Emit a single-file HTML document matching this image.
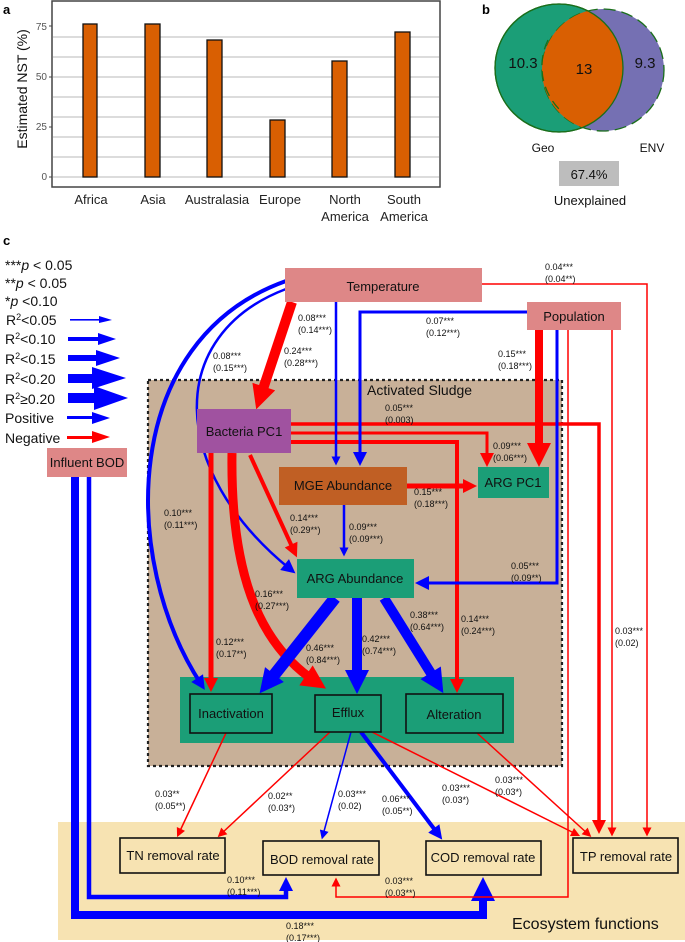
<!DOCTYPE html>
<html><head><meta charset="utf-8"><style>
html,body{margin:0;padding:0;background:#fff;}
svg{display:block;font-family:"Liberation Sans",Arial,sans-serif;}
.e{font-size:9px;fill:#111;}
.n{font-size:13px;fill:#111;}
</style></head><body>
<svg width="685" height="942" viewBox="0 0 685 942" xmlns="http://www.w3.org/2000/svg">
<defs>
<marker id="bs" viewBox="0 0 10 10" refX="5" refY="5" markerUnits="userSpaceOnUse" markerWidth="12" markerHeight="9" orient="auto"><path d="M0,0L10,5L0,10z" fill="#0000ff"/></marker>
<marker id="rs" viewBox="0 0 10 10" refX="5" refY="5" markerUnits="userSpaceOnUse" markerWidth="12" markerHeight="9" orient="auto"><path d="M0,0L10,5L0,10z" fill="#ff0000"/></marker>
<marker id="bm" viewBox="0 0 10 10" refX="5" refY="5" markerUnits="userSpaceOnUse" markerWidth="17" markerHeight="14" orient="auto"><path d="M0,0L10,5L0,10z" fill="#0000ff"/></marker>
<marker id="rm" viewBox="0 0 10 10" refX="5" refY="5" markerUnits="userSpaceOnUse" markerWidth="17" markerHeight="14" orient="auto"><path d="M0,0L10,5L0,10z" fill="#ff0000"/></marker>
<marker id="bl" viewBox="0 0 10 10" refX="5" refY="5" markerUnits="userSpaceOnUse" markerWidth="27" markerHeight="24" orient="auto"><path d="M0,0L10,5L0,10z" fill="#0000ff"/></marker>
<marker id="rl" viewBox="0 0 10 10" refX="5" refY="5" markerUnits="userSpaceOnUse" markerWidth="27" markerHeight="24" orient="auto"><path d="M0,0L10,5L0,10z" fill="#ff0000"/></marker>
</defs>

<!-- Panel a -->
<text x="3" y="14" font-size="13" font-weight="bold">a</text>
<rect x="52" y="1" width="388" height="186" fill="#fff" stroke="#444" stroke-width="1.5"/>
<g stroke="#c8c8c8" stroke-width="1.3">
<line x1="53" x2="439" y1="37" y2="37"/><line x1="53" x2="439" y1="57" y2="57"/><line x1="53" x2="439" y1="77" y2="77"/><line x1="53" x2="439" y1="97" y2="97"/><line x1="53" x2="439" y1="117" y2="117"/><line x1="53" x2="439" y1="137" y2="137"/><line x1="53" x2="439" y1="157" y2="157"/><line x1="53" x2="439" y1="177" y2="177"/>
</g>
<g fill="#555" font-size="10" text-anchor="end">
<text x="47" y="30">75</text><text x="47" y="80">50</text><text x="47" y="130">25</text><text x="47" y="180">0</text>
</g>
<g stroke="#444"><line x1="49" x2="52" y1="26" y2="26"/><line x1="49" x2="52" y1="77" y2="77"/><line x1="49" x2="52" y1="127" y2="127"/><line x1="49" x2="52" y1="177" y2="177"/></g>
<text transform="translate(27,89) rotate(-90)" font-size="14" text-anchor="middle" fill="#111">Estimated NST (%)</text>
<g fill="#d95f02" stroke="#111" stroke-width="1.3">
<rect x="83" y="24" width="14" height="153"/><rect x="145" y="24" width="15" height="153"/><rect x="207" y="40" width="15" height="137"/><rect x="270" y="120" width="15" height="57"/><rect x="332" y="61" width="15" height="116"/><rect x="395" y="32" width="15" height="145"/>
</g>
<g font-size="13" fill="#222" text-anchor="middle">
<text x="91" y="204">Africa</text><text x="153" y="204">Asia</text><text x="217" y="204">Australasia</text><text x="280" y="204">Europe</text>
<text x="345" y="204">North</text><text x="345" y="221">America</text><text x="404" y="204">South</text><text x="404" y="221">America</text>
</g>

<!-- Panel b -->
<text x="482" y="14" font-size="13" font-weight="bold">b</text>
<circle cx="559" cy="68" r="64" fill="#1b9e77" stroke="#1a6e1a" stroke-width="1.3"/>
<circle cx="603" cy="70" r="61" fill="#7570b3" stroke="#1a6e1a" stroke-width="1.3" stroke-dasharray="12,6"/>
<clipPath id="cg"><circle cx="559" cy="68" r="64"/></clipPath>
<circle cx="603" cy="70" r="61" fill="#d95f02" clip-path="url(#cg)"/>
<circle cx="559" cy="68" r="64" fill="none" stroke="#1a6e1a" stroke-width="1.3"/>
<path d="M548,40 A61,61 0 0 0 560,110" fill="none" stroke="#1a6e1a" stroke-width="1.3" stroke-dasharray="10,6"/>
<g font-size="15" fill="#111" text-anchor="middle">
<text x="523" y="68">10.3</text><text x="584" y="74">13</text><text x="645" y="68">9.3</text>
</g>
<g font-size="12" fill="#111" text-anchor="middle"><text x="543" y="152">Geo</text><text x="652" y="152">ENV</text></g>
<rect x="559" y="161" width="60" height="25" fill="#bdbdbd"/>
<text x="589" y="179" font-size="13" text-anchor="middle" fill="#111">67.4%</text>
<text x="590" y="205" font-size="13" text-anchor="middle" fill="#111">Unexplained</text>

<!-- Panel c backgrounds -->
<text x="3" y="245" font-size="13" font-weight="bold">c</text>
<rect x="58" y="822" width="627" height="118" fill="#f7e3b2"/>
<rect x="148" y="380" width="414" height="386" fill="#c8b098" stroke="#222" stroke-width="2.2" stroke-dasharray="3,3"/>
<text x="367" y="395" font-size="14" fill="#111">Activated Sludge</text>
<rect x="180" y="677" width="334" height="66" fill="#1b9e77"/>
<text x="512" y="929" font-size="16" fill="#111">Ecosystem functions</text>

<!-- Legend -->
<g font-size="14" fill="#111">
<text x="5" y="270">***<tspan font-style="italic">p</tspan> &lt; 0.05</text>
<text x="5" y="288">**<tspan font-style="italic">p</tspan> &lt; 0.05</text>
<text x="5" y="306">*<tspan font-style="italic">p</tspan> &lt;0.10</text>
<text x="6" y="325">R<tspan font-size="9" dy="-5">2</tspan><tspan dy="5">&lt;0.05</tspan></text>
<text x="5" y="344">R<tspan font-size="9" dy="-5">2</tspan><tspan dy="5">&lt;0.10</tspan></text>
<text x="5" y="364">R<tspan font-size="9" dy="-5">2</tspan><tspan dy="5">&lt;0.15</tspan></text>
<text x="5" y="384">R<tspan font-size="9" dy="-5">2</tspan><tspan dy="5">&lt;0.20</tspan></text>
<text x="5" y="404">R<tspan font-size="9" dy="-5">2</tspan><tspan dy="5">≥0.20</tspan></text>
<text x="5" y="423">Positive</text>
<text x="5" y="443">Negative</text>
</g>
<g fill="#0000ff" stroke="none">
<rect x="70" y="319" width="30" height="1.6"/><polygon points="99,316 112,320 99,323"/>
<rect x="68" y="337" width="32" height="4"/><polygon points="98,333 116,339 98,345"/>
<rect x="68" y="355" width="32" height="6"/><polygon points="96,350 120,358 96,366"/>
<rect x="68" y="374" width="28" height="9"/><polygon points="92,367 126,378 92,389"/>
<rect x="68" y="393" width="30" height="10"/><polygon points="94,386 128,398 94,410"/>
<rect x="67" y="416" width="30" height="3"/><polygon points="92,412 110,418 92,424"/>
</g>
<g fill="#ff0000"><rect x="67" y="436" width="30" height="3"/><polygon points="92,431 110,437 92,443"/></g>

<!-- Edges (under nodes) -->
<g fill="none">
<!-- Influent BOD -->
<path d="M75,477 V915 H483 V889" stroke="#0000ff" stroke-width="8" marker-end="url(#bl)"/>
<path d="M89,477 V897 H286 V884" stroke="#0000ff" stroke-width="4.5" marker-end="url(#bm)"/>
<!-- Population red loop to BOD -->
<path d="M568,330 V897 H336 V882" stroke="#ff0000" stroke-width="1.5" marker-end="url(#rs)"/>
<path d="M612,330 V832" stroke="#ff0000" stroke-width="1.5" marker-end="url(#rs)"/>
<!-- Temperature to TP -->
<path d="M482,284 H647 V832" stroke="#ff0000" stroke-width="1.5" marker-end="url(#rs)"/>
<!-- Bacteria right lines -->
<path d="M291,424 H599 V827" stroke="#ff0000" stroke-width="3.5" marker-end="url(#rm)"/>
<path d="M291,433 H487 V460" stroke="#ff0000" stroke-width="3" marker-end="url(#rm)"/>
<path d="M291,442 H457 V686" stroke="#ff0000" stroke-width="4" marker-end="url(#rm)"/>
<!-- Population -->
<path d="M527,312 H360 V459" stroke="#0000ff" stroke-width="3" marker-end="url(#bm)"/>
<path d="M539,330 V455" stroke="#ff0000" stroke-width="8" marker-end="url(#rl)"/>
<path d="M557,330 V583 H422" stroke="#0000ff" stroke-width="3" marker-end="url(#bm)"/>
<!-- Temperature -->
<path d="M292,302 L260,398" stroke="#ff0000" stroke-width="10" marker-end="url(#rl)"/>
<path d="M336,302 V461" stroke="#0000ff" stroke-width="2.5" marker-end="url(#bs)"/>
<path d="M286,281 C120,340 120,560 201,684" stroke="#0000ff" stroke-width="4" marker-end="url(#bm)"/>
<path d="M286,289 C165,335 168,470 290,569" stroke="#0000ff" stroke-width="2.5" marker-end="url(#bm)"/>
<!-- MGE -->
<path d="M407,486 H470" stroke="#ff0000" stroke-width="5" marker-end="url(#rm)"/>
<path d="M344,505 V552" stroke="#0000ff" stroke-width="2.5" marker-end="url(#bs)"/>
<!-- Bacteria down -->
<path d="M250,455 L294,551" stroke="#ff0000" stroke-width="4" marker-end="url(#rm)"/>
<path d="M211,453 V685" stroke="#ff0000" stroke-width="5" marker-end="url(#rm)"/>
<path d="M232,453 C230,590 268,650 316,682" stroke="#ff0000" stroke-width="9" marker-end="url(#rl)"/>
<!-- ARG Abundance -->
<path d="M335,598 L267,684" stroke="#0000ff" stroke-width="12" marker-end="url(#bl)"/>
<path d="M357,598 V682" stroke="#0000ff" stroke-width="10" marker-end="url(#bl)"/>
<path d="M384,598 L437,683" stroke="#0000ff" stroke-width="10" marker-end="url(#bl)"/>
<!-- to ecosystem -->
<path d="M226,733 L179,833" stroke="#ff0000" stroke-width="1.5" marker-end="url(#rs)"/>
<path d="M330,732 L221,834" stroke="#ff0000" stroke-width="1.5" marker-end="url(#rs)"/>
<path d="M351,732 L323,835" stroke="#0000ff" stroke-width="1.5" marker-end="url(#bs)"/>
<path d="M361,732 L438,834" stroke="#0000ff" stroke-width="4" marker-end="url(#bm)"/>
<path d="M372,732 L576,834" stroke="#ff0000" stroke-width="1.5" marker-end="url(#rs)"/>
<path d="M477,733 L588,834" stroke="#ff0000" stroke-width="1.5" marker-end="url(#rs)"/>
</g>

<!-- Nodes -->
<rect x="285" y="268" width="197" height="34" fill="#de8787"/>
<text x="383" y="291" class="n" font-size="15" text-anchor="middle">Temperature</text>
<rect x="527" y="302" width="94" height="28" fill="#de8787"/>
<text x="574" y="321" class="n" text-anchor="middle">Population</text>
<rect x="47" y="448" width="80" height="29" fill="#de8787"/>
<text x="87" y="467" class="n" text-anchor="middle">Influent BOD</text>
<rect x="197" y="409" width="94" height="44" fill="#a052a0"/>
<text x="244" y="436" class="n" text-anchor="middle">Bacteria PC1</text>
<rect x="279" y="467" width="128" height="38" fill="#c05f24"/>
<text x="343" y="490" class="n" text-anchor="middle">MGE Abundance</text>
<rect x="478" y="467" width="71" height="31" fill="#1b9e77"/>
<text x="513" y="487" class="n" text-anchor="middle">ARG PC1</text>
<rect x="297" y="559" width="117" height="39" fill="#1b9e77"/>
<text x="355" y="583" class="n" text-anchor="middle">ARG Abundance</text>
<g fill="#1b9e77" stroke="#111" stroke-width="1.6">
<rect x="190" y="694" width="82" height="39"/><rect x="315" y="695" width="66" height="37"/><rect x="406" y="694" width="97" height="39"/>
</g>
<text x="231" y="718" class="n" text-anchor="middle">Inactivation</text>
<text x="348" y="717" class="n" text-anchor="middle">Efflux</text>
<text x="454" y="719" class="n" text-anchor="middle">Alteration</text>
<g fill="#f7e3b2" stroke="#111" stroke-width="1.6">
<rect x="120" y="838" width="105" height="35"/><rect x="263" y="841" width="116" height="34"/><rect x="426" y="841" width="115" height="34"/><rect x="573" y="838" width="105" height="35"/>
</g>
<g class="n" font-size="12" text-anchor="middle">
<text x="173" y="860">TN removal rate</text><text x="322" y="864">BOD removal rate</text><text x="483" y="862">COD removal rate</text><text x="626" y="861">TP removal rate</text>
</g>

<!-- Edge labels -->
<g class="e">
<text x="545" y="270">0.04***</text><text x="545" y="282">(0.04**)</text>
<text x="298" y="321">0.08***</text><text x="298" y="333">(0.14***)</text>
<text x="284" y="354">0.24***</text><text x="284" y="366">(0.28***)</text>
<text x="213" y="359">0.08***</text><text x="213" y="371">(0.15***)</text>
<text x="426" y="324">0.07***</text><text x="426" y="336">(0.12***)</text>
<text x="498" y="357">0.15***</text><text x="498" y="369">(0.18***)</text>
<text x="385" y="411">0.05***</text><text x="385" y="423">(0.003)</text>
<text x="493" y="449">0.09***</text><text x="493" y="461">(0.06***)</text>
<text x="414" y="495">0.15***</text><text x="414" y="507">(0.18***)</text>
<text x="164" y="516">0.10***</text><text x="164" y="528">(0.11***)</text>
<text x="290" y="521">0.14***</text><text x="290" y="533">(0.29**)</text>
<text x="349" y="530">0.09***</text><text x="349" y="542">(0.09***)</text>
<text x="511" y="569">0.05***</text><text x="511" y="581">(0.09**)</text>
<text x="255" y="597">0.16***</text><text x="255" y="609">(0.27***)</text>
<text x="410" y="618">0.38***</text><text x="410" y="630">(0.64***)</text>
<text x="461" y="622">0.14***</text><text x="461" y="634">(0.24***)</text>
<text x="615" y="634">0.03***</text><text x="615" y="646">(0.02)</text>
<text x="216" y="645">0.12***</text><text x="216" y="657">(0.17**)</text>
<text x="306" y="651">0.46***</text><text x="306" y="663">(0.84***)</text>
<text x="362" y="642">0.42***</text><text x="362" y="654">(0.74***)</text>
<text x="155" y="797">0.03**</text><text x="155" y="809">(0.05**)</text>
<text x="268" y="799">0.02**</text><text x="268" y="811">(0.03*)</text>
<text x="338" y="797">0.03***</text><text x="338" y="809">(0.02)</text>
<text x="382" y="802">0.06***</text><text x="382" y="814">(0.05**)</text>
<text x="442" y="791">0.03***</text><text x="442" y="803">(0.03*)</text>
<text x="495" y="783">0.03***</text><text x="495" y="795">(0.03*)</text>
<text x="227" y="883">0.10***</text><text x="227" y="895">(0.11***)</text>
<text x="385" y="884">0.03***</text><text x="385" y="896">(0.03**)</text>
<text x="286" y="929">0.18***</text><text x="286" y="941">(0.17***)</text>
</g>
</svg>
</body></html>
